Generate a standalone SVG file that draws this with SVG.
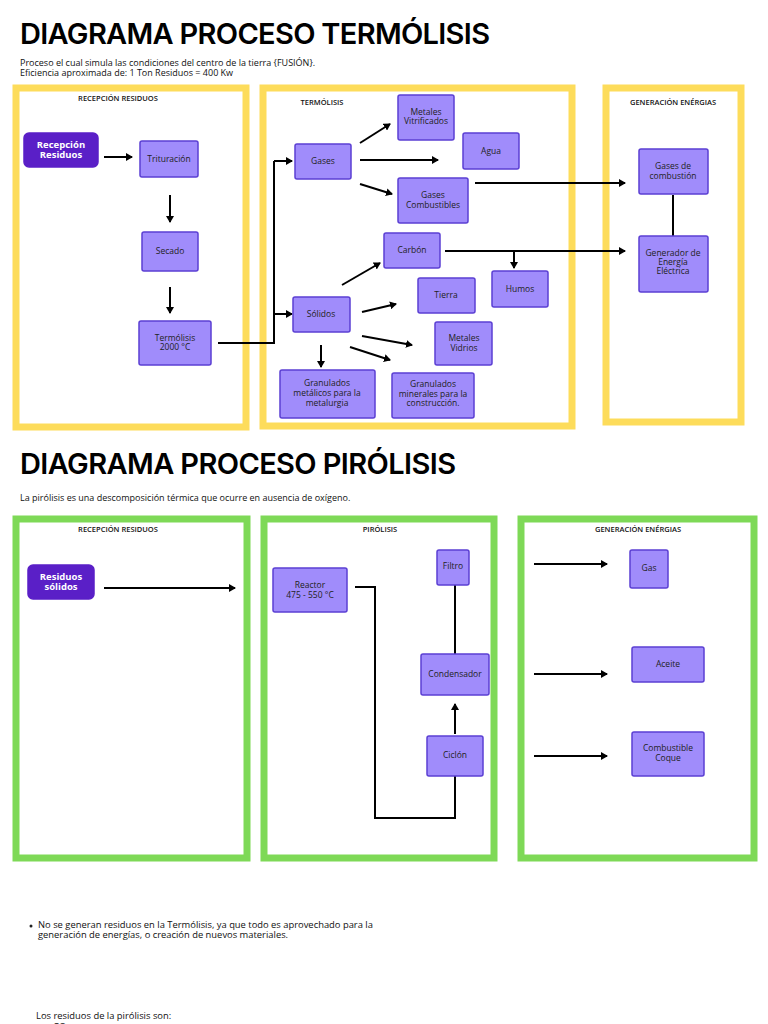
<svg xmlns="http://www.w3.org/2000/svg" width="768" height="1024" viewBox="0 0 768 1024">
<defs>
<marker id="ah" markerWidth="8" markerHeight="8" refX="6" refY="4" orient="auto" markerUnits="userSpaceOnUse"><path d="M0,0 L7,4 L0,8 z" fill="#000"/></marker>
<style>
.t{font-family:"Open Sans","Liberation Sans",sans-serif;fill:#111}
.h{font-family:Inter,"Liberation Sans",sans-serif;font-weight:600;font-size:29px;fill:#000}
.n rect{fill:#a08cfb;stroke:#5b3fd3;stroke-width:1.5}
.d rect{fill:#5a1fc7;stroke:#5a1fc7;stroke-width:1.5}
.n text{font-family:"Open Sans","Liberation Sans",sans-serif;font-size:8.5px;fill:#222;text-anchor:middle}
.d text{font-family:"Open Sans","Liberation Sans",sans-serif;font-size:9.5px;font-weight:bold;fill:#fff;text-anchor:middle}
.y{fill:none;stroke:#fddc5b;stroke-width:7}
.g{fill:none;stroke:#7ed957;stroke-width:7}
.c line,.c polyline{stroke:#000;stroke-width:2;fill:none}
.a{marker-end:url(#ah)}
.lab{font-family:"Open Sans","Liberation Sans",sans-serif;font-size:7.5px;font-weight:600;fill:#111;text-anchor:middle}
</style>
</defs>
<rect width="768" height="1024" fill="#fff"/>
<text class="h" x="20" y="44" textLength="470">DIAGRAMA PROCESO TERMÓLISIS</text>
<text class="t" x="20" y="66" font-size="9">Proceso el cual simula las condiciones del centro de la tierra {FUSIÓN}.</text>
<text class="t" x="20" y="76" font-size="9">Eficiencia aproximada de: 1 Ton Residuos = 400 Kw</text>
<rect class="y" x="16" y="88" width="230" height="339"/>
<rect class="y" x="263" y="88" width="309" height="338"/>
<rect class="y" x="606" y="88" width="135" height="334"/>
<text class="lab" x="118" y="101">RECEPCIÓN RESIDUOS</text>
<text class="lab" x="322" y="105">TERMÓLISIS</text>
<text class="lab" x="673" y="105">GENERACIÓN ENÉRGIAS</text>

<g class="c">
<line class="a" x1="104" y1="157" x2="132" y2="157"/>
<line class="a" x1="170" y1="195" x2="170" y2="222"/>
<line class="a" x1="170" y1="287" x2="170" y2="313"/>
<polyline points="218,343 274,343 274,161"/>
<line class="a" x1="274" y1="161" x2="292" y2="161"/>
<line class="a" x1="274" y1="314" x2="292" y2="314"/>
<line class="a" x1="360" y1="143" x2="390" y2="124"/>
<line class="a" x1="360" y1="160" x2="438" y2="160"/>
<line class="a" x1="360" y1="184" x2="392" y2="194"/>
<line class="a" x1="475" y1="183" x2="625" y2="183"/>
<line class="a" x1="445" y1="251" x2="625" y2="251"/>
<line class="a" x1="514" y1="251" x2="514" y2="268"/>
<line x1="673" y1="195" x2="673" y2="236"/>
<line class="a" x1="342" y1="285" x2="380" y2="263"/>
<line class="a" x1="362" y1="312" x2="396" y2="304"/>
<line class="a" x1="362" y1="336" x2="412" y2="345"/>
<line class="a" x1="350" y1="347" x2="390" y2="360"/>
<line class="a" x1="321" y1="345" x2="321" y2="367"/>
<line class="a" x1="104" y1="588" x2="235" y2="588"/>
<polyline points="355,587 375,587 375,818 455,818 455,776"/>
<line class="a" x1="455" y1="734" x2="455" y2="704"/>
<line x1="455" y1="654" x2="455" y2="585"/>
<line class="a" x1="534" y1="564" x2="607" y2="564"/>
<line class="a" x1="534" y1="674" x2="607" y2="674"/>
<line class="a" x1="534" y1="756" x2="607" y2="756"/>
</g>

<g id="recepcion" class="d"><rect x="24" y="133" width="74" height="34" rx="5"/><text x="61" y="148">Recepción</text><text x="61" y="158">Residuos</text></g>
<g id="trituracion" class="n"><rect x="140" y="141" width="58" height="36" rx="2"/><text x="169" y="162">Trituración</text></g>
<g id="secado" class="n"><rect x="142" y="232" width="56" height="39" rx="2"/><text x="170" y="254">Secado</text></g>
<g id="termolisis" class="n"><rect x="139" y="321" width="72" height="44" rx="2"/><text x="175" y="341">Termólisis</text><text x="175" y="350">2000 °C</text></g>
<g id="gases" class="n"><rect x="295" y="144" width="56" height="35" rx="2"/><text x="323" y="164">Gases</text></g>
<g id="metvit" class="n"><rect x="398" y="95" width="56" height="45" rx="2"/><text x="426" y="115">Metales</text><text x="426" y="124">Vitrificados</text></g>
<g id="agua" class="n"><rect x="463" y="133" width="56" height="36" rx="2"/><text x="491" y="154">Agua</text></g>
<g id="gascomb" class="n"><rect x="398" y="178" width="70" height="45" rx="2"/><text x="433" y="198">Gases</text><text x="433" y="208">Combustibles</text></g>
<g id="carbon" class="n"><rect x="384" y="233" width="56" height="35" rx="2"/><text x="412" y="253">Carbón</text></g>
<g id="solidos" class="n"><rect x="293" y="297" width="57" height="35" rx="2"/><text x="321" y="317">Sólidos</text></g>
<g id="tierra" class="n"><rect x="418" y="278" width="57" height="35" rx="2"/><text x="446" y="298">Tierra</text></g>
<g id="humos" class="n"><rect x="492" y="271" width="56" height="36" rx="2"/><text x="520" y="292">Humos</text></g>
<g id="metvid" class="n"><rect x="435" y="322" width="57" height="43" rx="2"/><text x="464" y="341">Metales</text><text x="464" y="351">Vidrios</text></g>
<g id="granmet" class="n"><rect x="280" y="370" width="95" height="48" rx="2"/><text x="327" y="386">Granulados</text><text x="327" y="396">metálicos para la</text><text x="327" y="406">metalurgia</text></g>
<g id="granmin" class="n"><rect x="392" y="373" width="82" height="45" rx="2"/><text x="433" y="387">Granulados</text><text x="433" y="397">minerales para la</text><text x="433" y="406">construcción.</text></g>
<g id="gascombustion" class="n"><rect x="639" y="149" width="69" height="45" rx="2"/><text x="673" y="169">Gases de</text><text x="673" y="179">combustión</text></g>
<g id="generador" class="n"><rect x="639" y="236" width="69" height="56" rx="2"/><text x="673" y="256">Generador de</text><text x="673" y="265">Energía</text><text x="673" y="274">Eléctrica</text></g>

<text class="h" x="20" y="474" textLength="436">DIAGRAMA PROCESO PIRÓLISIS</text>
<text class="t" x="20" y="501" font-size="9">La pirólisis es una descomposición térmica que ocurre en ausencia de oxígeno.</text>
<rect class="g" x="16" y="519" width="231" height="339"/>
<rect class="g" x="264" y="519" width="230" height="339"/>
<rect class="g" x="521" y="519" width="233" height="339"/>
<text class="lab" x="118" y="532">RECEPCIÓN RESIDUOS</text>
<text class="lab" x="380" y="532">PIRÓLISIS</text>
<text class="lab" x="638" y="532">GENERACIÓN ENÉRGIAS</text>

<g id="ressol" class="d"><rect x="28" y="565" width="66" height="34" rx="5"/><text x="61" y="580">Residuos</text><text x="61" y="590">sólidos</text></g>
<g id="reactor" class="n"><rect x="273" y="568" width="74" height="44" rx="2"/><text x="310" y="588">Reactor</text><text x="310" y="598">475 - 550 °C</text></g>
<g id="filtro" class="n"><rect x="437" y="550" width="32" height="35" rx="2"/><text x="453" y="569">Filtro</text></g>
<g id="condensador" class="n"><rect x="421" y="654" width="68" height="41" rx="2"/><text x="455" y="677">Condensador</text></g>
<g id="ciclon" class="n"><rect x="427" y="736" width="56" height="40" rx="2"/><text x="455" y="758">Ciclón</text></g>
<g id="gas" class="n"><rect x="630" y="550" width="38" height="38" rx="2"/><text x="649" y="571">Gas</text></g>
<g id="aceite" class="n"><rect x="632" y="647" width="72" height="35" rx="2"/><text x="668" y="667">Aceite</text></g>
<g id="coque" class="n"><rect x="632" y="732" width="72" height="44" rx="2"/><text x="668" y="751">Combustible</text><text x="668" y="761">Coque</text></g>

<circle cx="31" cy="926" r="1.5" fill="#222"/>
<text class="t" x="38" y="928" font-size="9.4">No se generan residuos en la Termólisis, ya que todo es aprovechado para la</text>
<text class="t" x="38" y="938" font-size="9.4">generación de energías, o creación de nuevos materiales.</text>
<text class="t" x="36" y="1019" font-size="9.4">Los residuos de la pirólisis son:</text>
<text class="t" x="53" y="1030" font-size="9.4">CO</text>
</svg>
